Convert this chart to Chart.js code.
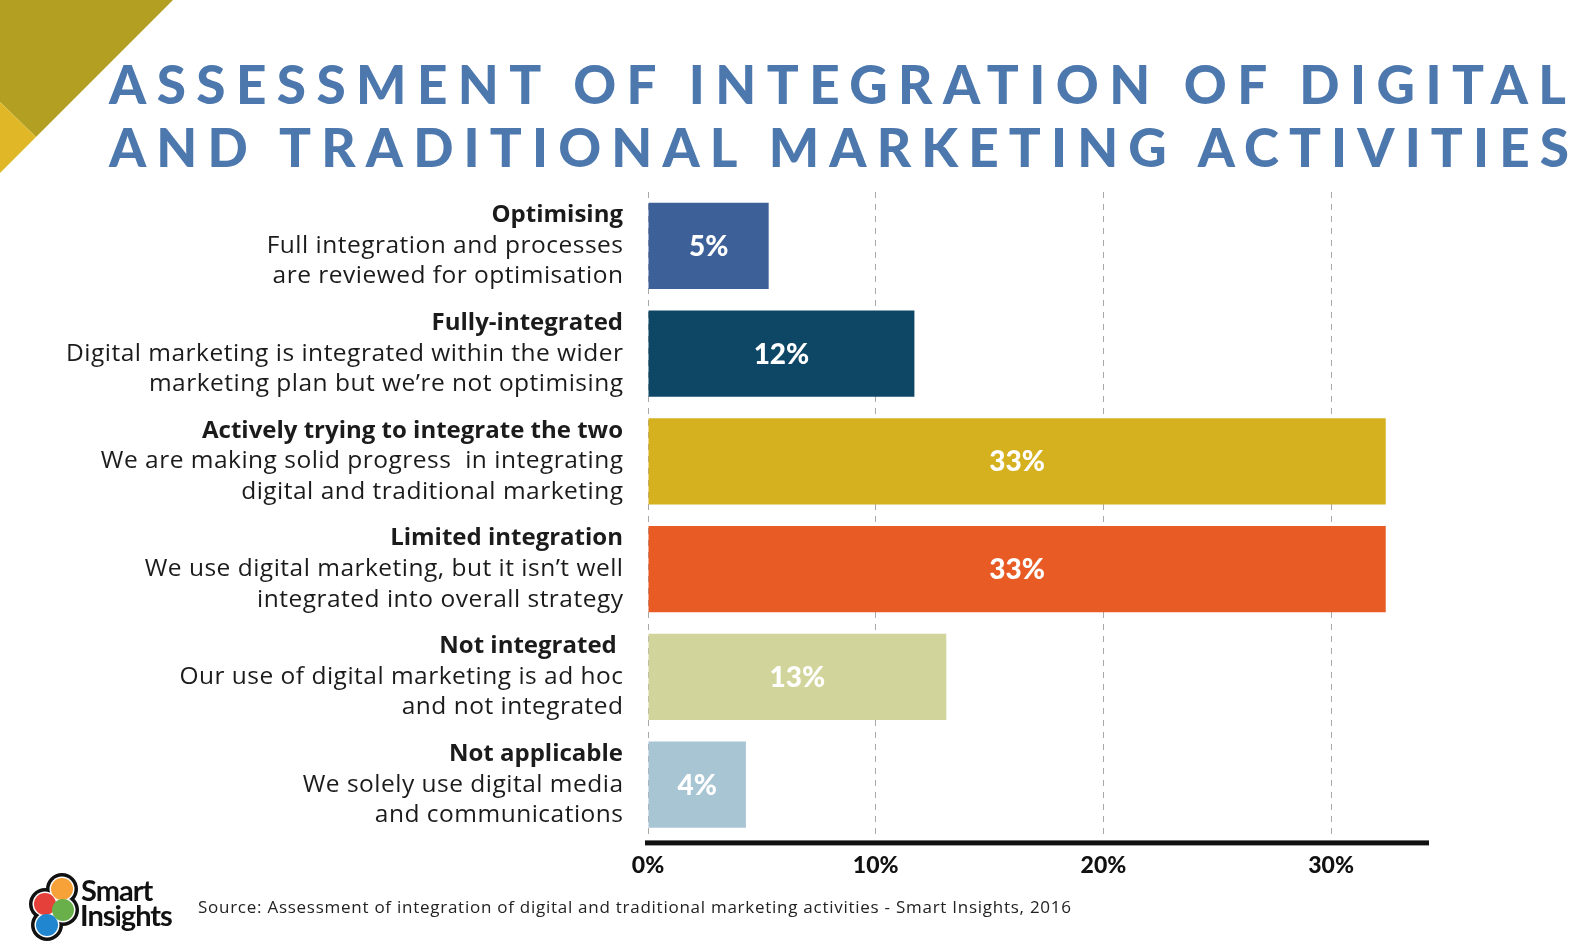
<!DOCTYPE html>
<html>
<head>
<meta charset="utf-8">
<script src="https://cdn.jsdelivr.net/npm/chart.js@4.4.1/dist/chart.umd.min.js"></script>
<style>
  html, body { margin: 0; padding: 0; background: #fff; }
  #wrap { position: relative; width: 1589px; height: 950px; overflow: hidden; }
  #c { position: absolute; left: 0; top: 0; }
  .tline { position: absolute; left: 109px; font-family: Lato, sans-serif; font-weight: 900; font-size: 53px; line-height: 63px; color: #4d78ad; white-space: pre; }
  #src { position: absolute; left: 198px; top: 896px; font-family: "Open Sans", sans-serif; font-size: 17px; line-height: 22px; color: #222; white-space: pre; }
  .brand { position: absolute; left: 81px; font-family: Lato, sans-serif; font-weight: 700; font-size: 29px; line-height: 28px; color: #111; letter-spacing: -1px; white-space: pre; }
</style>
</head>
<body>
<div id="wrap">
  <canvas id="c" width="1589" height="950"></canvas>
  <div class="tline" id="t1" style="top:52px">ASSESSMENT OF INTEGRATION OF DIGITAL</div>
  <div class="tline" id="t2" style="top:115px">AND TRADITIONAL MARKETING ACTIVITIES</div>
  <div class="brand" style="top:876px">Smart</div>
  <div class="brand" style="top:901px;left:80px">Insights</div>
  <div id="src">Source: Assessment of integration of digital and traditional marketing activities - Smart Insights, 2016</div>
</div>
<script>
// ---- data ----
const categories = ["Optimising", "Fully-integrated", "Actively trying to integrate the two", "Limited integration", "Not integrated ", "Not applicable"];
const descLine1 = ["Full integration and processes", "Digital marketing is integrated within the wider", "We are making solid progress  in integrating", "We use digital marketing, but it isn\u2019t well", "Our use of digital marketing is ad hoc", "We solely use digital media"];
const descLine2 = ["are reviewed for optimisation", "marketing plan but we\u2019re not optimising", "digital and traditional marketing", "integrated into overall strategy", "and not integrated", "and communications"];
const values = [5.3, 11.7, 32.4, 32.4, 13.1, 4.3];
const valueLabels = ["5%", "12%", "33%", "33%", "13%", "4%"];
const barColors = ["#3d6098", "#0e4665", "#d6b11f", "#e85b25", "#d2d59b", "#a8c5d3"];
const tickLabels = ["0%", "10%", "20%", "30%"];

function fitSpacing(id, target) {
  const el = document.getElementById(id);
  el.style.letterSpacing = "0px";
  const w = el.getBoundingClientRect().width;
  const n = el.textContent.length;
  el.style.letterSpacing = ((target - w) / (n - 1)) + "px";
}

const NORMAL_FONT = "400 24.5px 'Open Sans'";
const BOLD_FONT = "700 24px 'Open Sans'";
function spacingFor(ctx, font, text, target) {
  ctx.save();
  ctx.font = font;
  if ('letterSpacing' in ctx) ctx.letterSpacing = "0px";
  const w = ctx.measureText(text).width;
  ctx.restore();
  return (target - w) / (text.length - 1);
}

const decorPlugin = {
  id: 'decor',
  beforeDraw(chart) {
    const ctx = chart.ctx;
    ctx.save();
    ctx.fillStyle = "#b3a023";
    ctx.beginPath(); ctx.moveTo(0, 0); ctx.lineTo(173, 0); ctx.lineTo(36, 137); ctx.lineTo(0, 102); ctx.closePath(); ctx.fill();
    ctx.fillStyle = "#e0b827";
    ctx.beginPath(); ctx.moveTo(0, 102); ctx.lineTo(36, 137); ctx.lineTo(0, 173); ctx.closePath(); ctx.fill();
    ctx.restore();
  },
  afterDraw(chart) {
    const ctx = chart.ctx;
    const y = chart.scales.y;
    const area = chart.chartArea;
    const spN = spacingFor(ctx, NORMAL_FONT, descLine1[1], 557);
    const spB = spacingFor(ctx, BOLD_FONT, categories[2], 421);
    ctx.save();
    ctx.textAlign = "right";
    ctx.textBaseline = "middle";
    ctx.fillStyle = "#1b1b1b";
    const xr = area.left - 25;
    categories.forEach((c, i) => {
      const cy = y.getPixelForValue(i);
      ctx.font = BOLD_FONT;
      if ('letterSpacing' in ctx) ctx.letterSpacing = spB + "px";
      ctx.fillText(c, xr + spB, cy - 30.5);
      ctx.font = NORMAL_FONT;
      if ('letterSpacing' in ctx) ctx.letterSpacing = spN + "px";
      ctx.fillText(descLine1[i], xr + spN, cy);
      ctx.fillText(descLine2[i], xr + spN, cy + 30.5);
    });
    if ('letterSpacing' in ctx) ctx.letterSpacing = "0px";
    const meta = chart.getDatasetMeta(0);
    ctx.textAlign = "center";
    ctx.fillStyle = "#ffffff";
    ctx.font = "900 28px Lato";
    meta.data.forEach((bar, i) => {
      const cx = (bar.x + bar.base) / 2;
      ctx.fillText(valueLabels[i], cx, bar.y + 1);
    });
    ctx.fillStyle = "#111";
    ctx.fillRect(area.left - 3, area.bottom + 2, area.right - area.left + 3, 5);
    const circ = (x, yy, r, col) => { ctx.fillStyle = col; ctx.beginPath(); ctx.arc(x, yy, r, 0, Math.PI * 2); ctx.fill(); };
    const pts = [[62, 889, "#f6a238"], [45, 904, "#e5413a"], [63, 910, "#69b04a"], [47, 925, "#1f86cf"]];
    pts.forEach(p => circ(p[0], p[1], 16, "#111"));
    pts.forEach(p => circ(p[0], p[1], 12.5, "#fff"));
    pts.forEach(p => circ(p[0], p[1], 11, p[2]));
    ctx.restore();
  }
};

new Chart(document.getElementById('c'), {
  type: 'bar',
  data: {
    labels: categories,
    datasets: [{
      data: values,
      backgroundColor: barColors,
      borderWidth: 0,
      barPercentage: 0.8,
      categoryPercentage: 1.0
    }]
  },
  options: {
    indexAxis: 'y',
    responsive: false,
    animation: false,
    events: [],
    layout: { padding: { left: 648, right: 160, top: 192, bottom: 58 } },
    plugins: { legend: { display: false }, tooltip: { enabled: false }, title: { display: false } },
    scales: {
      y: { display: false, grid: { display: false } },
      x: {
        min: 0, max: 34.3,
        grid: { display: true, color: "#a8a8a8", lineWidth: 1, drawTicks: false, tickLength: 0 },
        border: { display: false, dash: [6, 6] },
        ticks: {
          stepSize: 10,
          includeBounds: false,
          padding: 13,
          color: "#111",
          font: { family: "Lato", weight: "900", size: 23 },
          callback: (v) => { const k = Math.round(v / 10); return (Math.abs(v - k * 10) < 1e-6 && tickLabels[k] !== undefined) ? tickLabels[k] : ""; }
        }
      }
    }
  },
  plugins: [decorPlugin]
});

fitSpacing("t1", 1457);
fitSpacing("t2", 1460);
fitSpacing("src", 873);
</script>
</body>
</html>
